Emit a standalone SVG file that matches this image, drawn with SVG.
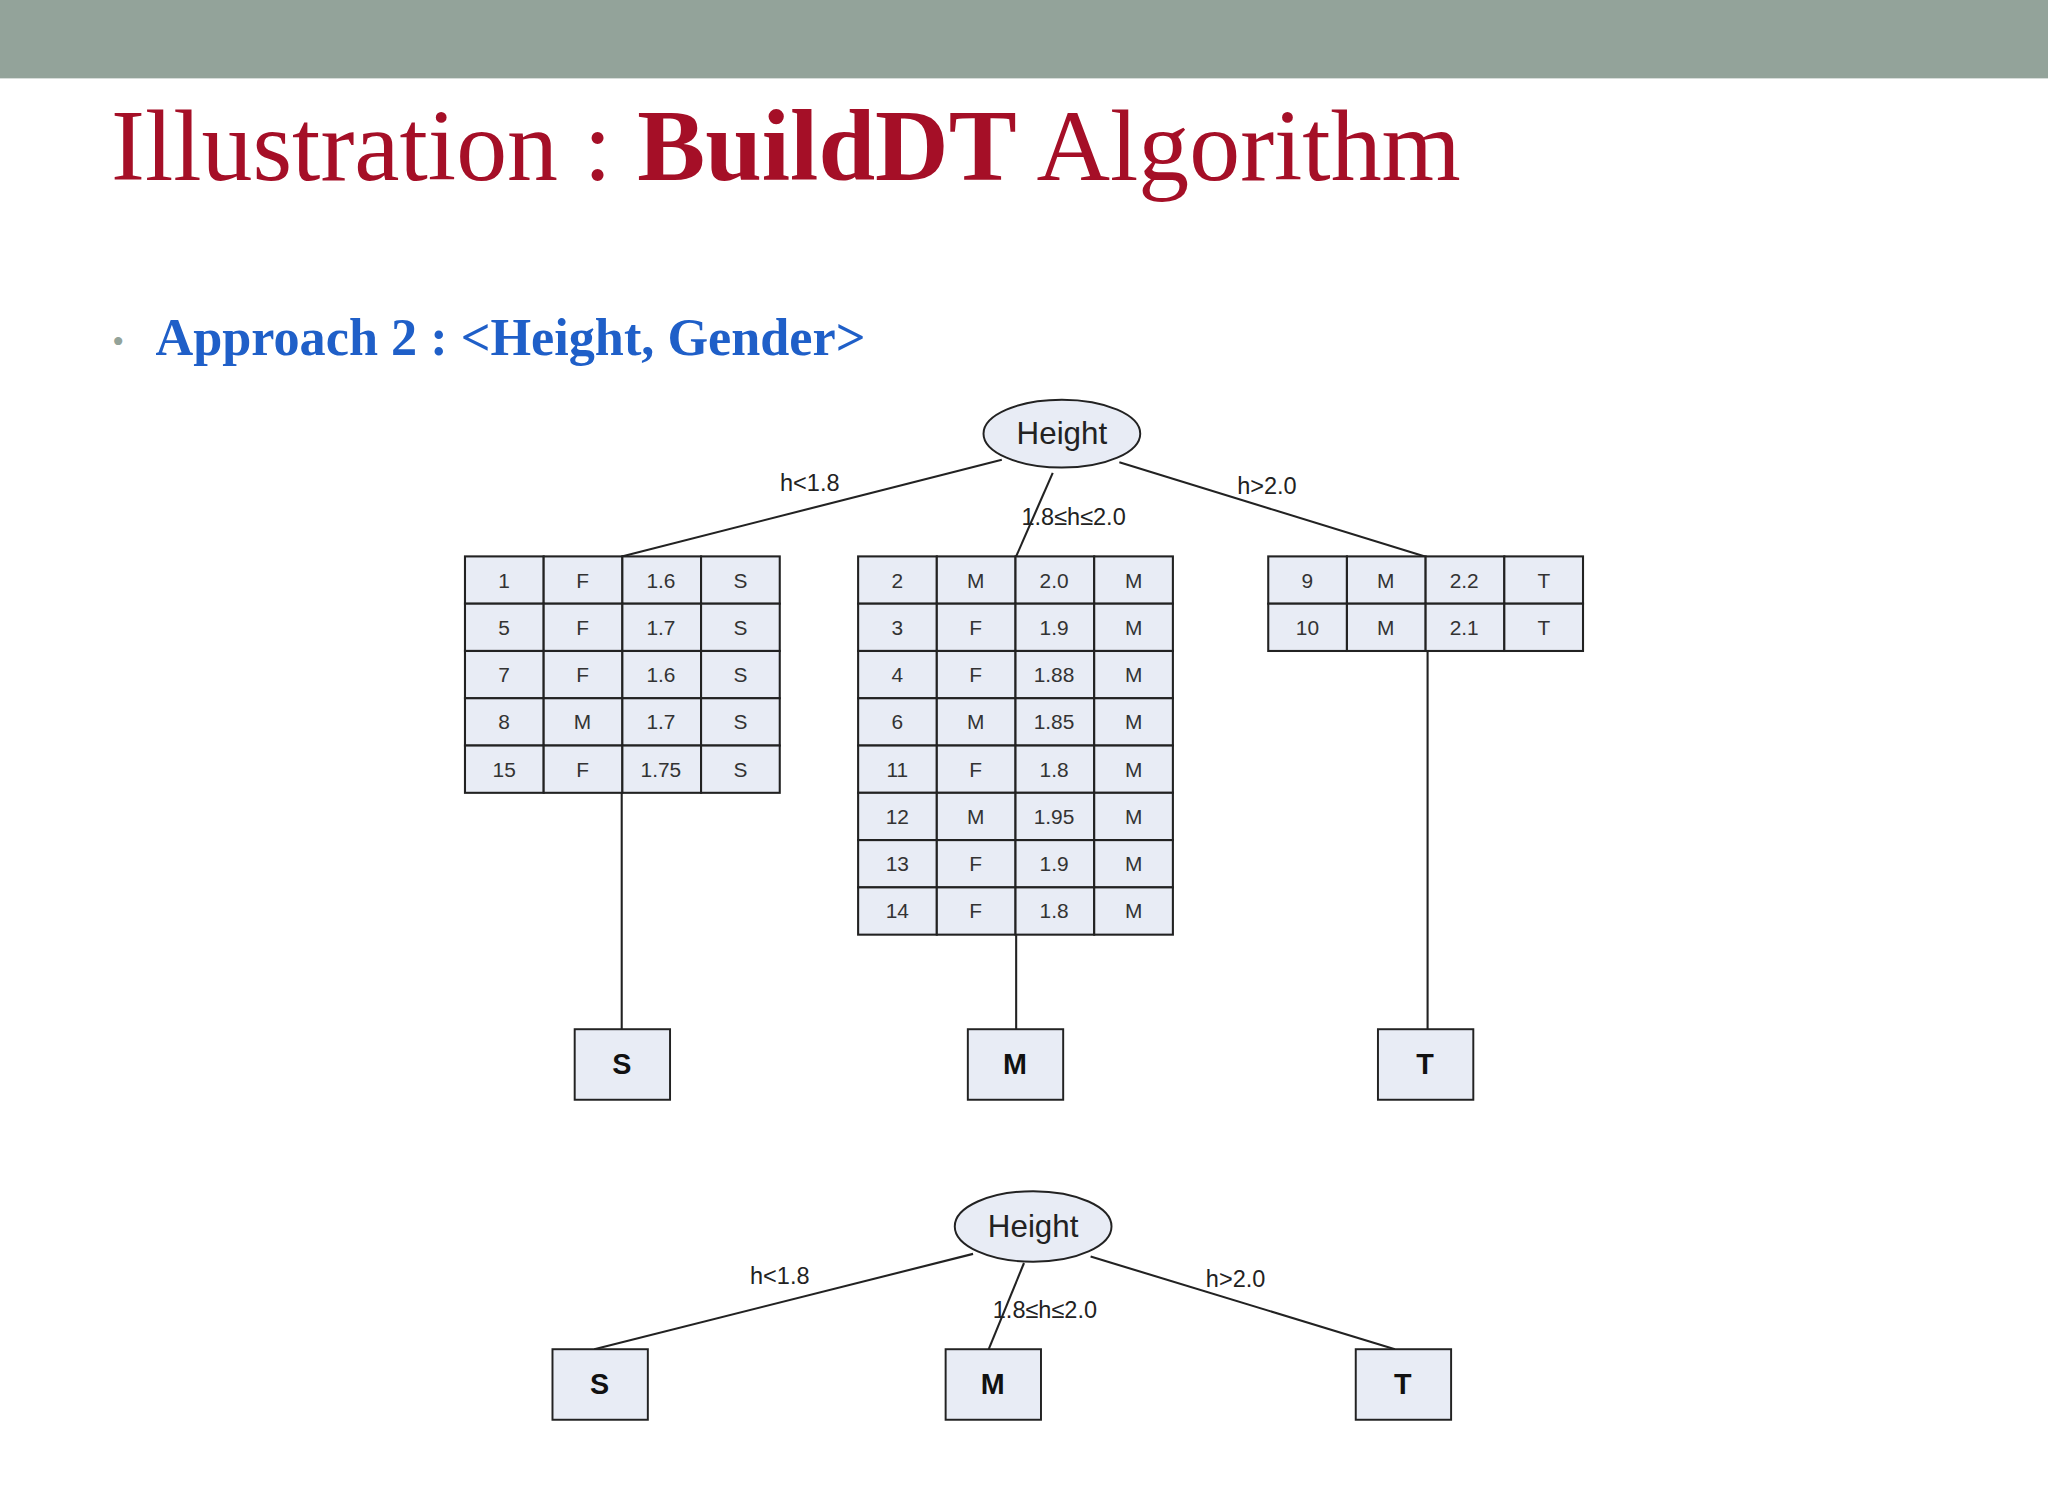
<svg xmlns="http://www.w3.org/2000/svg" width="2048" height="1500" viewBox="0 0 2048 1500">
<style>
.cell{fill:#e8ecf5;stroke:#222;stroke-width:1.6}
.ct{font-family:"Liberation Sans",Arial,sans-serif;font-size:16px;fill:#333;text-anchor:middle}
.lbl{font-family:"Liberation Sans",Arial,sans-serif;font-size:18px;fill:#222;text-anchor:middle}
.node{fill:#e8ecf5;stroke:#222;stroke-width:1.5}
.leaf{fill:#e8ecf5;stroke:#222;stroke-width:1.5}
.lt{font-family:"Liberation Sans",Arial,sans-serif;font-size:22px;font-weight:bold;fill:#111;text-anchor:middle}
.nt{font-family:"Liberation Sans",Arial,sans-serif;font-size:24px;fill:#222;text-anchor:middle}
.edge{stroke:#222;stroke-width:1.6;fill:none}
</style>
<rect width="2048" height="1500" fill="#fff"/>
<g transform="scale(1.30612)">
<rect x="0" y="0" width="1568" height="60" fill="#93a39a"/>
<text x="85" y="138" font-family="'Liberation Serif','Times New Roman',serif" font-size="78" fill="#a50f27">Illustration : <tspan font-weight="bold">BuildDT</tspan> Algorithm</text>
<text x="86" y="270" font-family="'Liberation Serif',serif" font-size="26" fill="#93a39a">•</text>
<text x="119" y="272" font-family="'Liberation Serif','Times New Roman',serif" font-size="40" font-weight="bold" fill="#1f5fc8">Approach 2 : &lt;Height, Gender&gt;</text>

<g id="connectors">
<line class="edge" x1="767" y1="352" x2="476" y2="426"/>
<line class="edge" x1="806" y1="362" x2="778" y2="426"/>
<line class="edge" x1="857" y1="354" x2="1091" y2="426"/>
<line class="edge" x1="476" y1="607" x2="476" y2="788"/>
<line class="edge" x1="778" y1="716" x2="778" y2="788"/>
<line class="edge" x1="1093" y1="498" x2="1093" y2="788"/>
<line class="edge" x1="745" y1="960" x2="455" y2="1033"/>
<line class="edge" x1="784" y1="967" x2="757" y2="1033"/>
<line class="edge" x1="835" y1="962" x2="1068" y2="1033"/>
<text class="lbl" x="620" y="376">h&lt;1.8</text>
<text class="lbl" x="822" y="402">1.8≤h≤2.0</text>
<text class="lbl" x="970" y="378">h&gt;2.0</text>
<text class="lbl" x="597" y="983">h&lt;1.8</text>
<text class="lbl" x="800" y="1009">1.8≤h≤2.0</text>
<text class="lbl" x="946" y="985">h&gt;2.0</text>
</g>

<g id="root1"><ellipse class="node" cx="813" cy="332" rx="60" ry="26"/><text class="nt" x="813" y="340">Height</text></g>
<g id="root2"><ellipse class="node" cx="791" cy="939" rx="60" ry="27"/><text class="nt" x="791" y="947">Height</text></g>

<g id="tableS">
<g class="cell">
<rect x="356" y="426" width="60.25" height="36.2"/><rect x="416.25" y="426" width="60.25" height="36.2"/><rect x="476.5" y="426" width="60.25" height="36.2"/><rect x="536.75" y="426" width="60.25" height="36.2"/>
<rect x="356" y="462.2" width="60.25" height="36.2"/><rect x="416.25" y="462.2" width="60.25" height="36.2"/><rect x="476.5" y="462.2" width="60.25" height="36.2"/><rect x="536.75" y="462.2" width="60.25" height="36.2"/>
<rect x="356" y="498.4" width="60.25" height="36.2"/><rect x="416.25" y="498.4" width="60.25" height="36.2"/><rect x="476.5" y="498.4" width="60.25" height="36.2"/><rect x="536.75" y="498.4" width="60.25" height="36.2"/>
<rect x="356" y="534.6" width="60.25" height="36.2"/><rect x="416.25" y="534.6" width="60.25" height="36.2"/><rect x="476.5" y="534.6" width="60.25" height="36.2"/><rect x="536.75" y="534.6" width="60.25" height="36.2"/>
<rect x="356" y="570.8" width="60.25" height="36.2"/><rect x="416.25" y="570.8" width="60.25" height="36.2"/><rect x="476.5" y="570.8" width="60.25" height="36.2"/><rect x="536.75" y="570.8" width="60.25" height="36.2"/>
</g>
<g class="ct">
<text x="386" y="450">1</text><text x="446" y="450">F</text><text x="506" y="450">1.6</text><text x="567" y="450">S</text>
<text x="386" y="486">5</text><text x="446" y="486">F</text><text x="506" y="486">1.7</text><text x="567" y="486">S</text>
<text x="386" y="522">7</text><text x="446" y="522">F</text><text x="506" y="522">1.6</text><text x="567" y="522">S</text>
<text x="386" y="558">8</text><text x="446" y="558">M</text><text x="506" y="558">1.7</text><text x="567" y="558">S</text>
<text x="386" y="595">15</text><text x="446" y="595">F</text><text x="506" y="595">1.75</text><text x="567" y="595">S</text>
</g>
</g>

<g id="tableM">
<g class="cell">
<rect x="657" y="426" width="60.25" height="36.2"/><rect x="717.25" y="426" width="60.25" height="36.2"/><rect x="777.5" y="426" width="60.25" height="36.2"/><rect x="837.75" y="426" width="60.25" height="36.2"/>
<rect x="657" y="462.2" width="60.25" height="36.2"/><rect x="717.25" y="462.2" width="60.25" height="36.2"/><rect x="777.5" y="462.2" width="60.25" height="36.2"/><rect x="837.75" y="462.2" width="60.25" height="36.2"/>
<rect x="657" y="498.4" width="60.25" height="36.2"/><rect x="717.25" y="498.4" width="60.25" height="36.2"/><rect x="777.5" y="498.4" width="60.25" height="36.2"/><rect x="837.75" y="498.4" width="60.25" height="36.2"/>
<rect x="657" y="534.6" width="60.25" height="36.2"/><rect x="717.25" y="534.6" width="60.25" height="36.2"/><rect x="777.5" y="534.6" width="60.25" height="36.2"/><rect x="837.75" y="534.6" width="60.25" height="36.2"/>
<rect x="657" y="570.8" width="60.25" height="36.2"/><rect x="717.25" y="570.8" width="60.25" height="36.2"/><rect x="777.5" y="570.8" width="60.25" height="36.2"/><rect x="837.75" y="570.8" width="60.25" height="36.2"/>
<rect x="657" y="607" width="60.25" height="36.2"/><rect x="717.25" y="607" width="60.25" height="36.2"/><rect x="777.5" y="607" width="60.25" height="36.2"/><rect x="837.75" y="607" width="60.25" height="36.2"/>
<rect x="657" y="643.2" width="60.25" height="36.2"/><rect x="717.25" y="643.2" width="60.25" height="36.2"/><rect x="777.5" y="643.2" width="60.25" height="36.2"/><rect x="837.75" y="643.2" width="60.25" height="36.2"/>
<rect x="657" y="679.4" width="60.25" height="36.2"/><rect x="717.25" y="679.4" width="60.25" height="36.2"/><rect x="777.5" y="679.4" width="60.25" height="36.2"/><rect x="837.75" y="679.4" width="60.25" height="36.2"/>
</g>
<g class="ct">
<text x="687" y="450">2</text><text x="747" y="450">M</text><text x="807" y="450">2.0</text><text x="868" y="450">M</text>
<text x="687" y="486">3</text><text x="747" y="486">F</text><text x="807" y="486">1.9</text><text x="868" y="486">M</text>
<text x="687" y="522">4</text><text x="747" y="522">F</text><text x="807" y="522">1.88</text><text x="868" y="522">M</text>
<text x="687" y="558">6</text><text x="747" y="558">M</text><text x="807" y="558">1.85</text><text x="868" y="558">M</text>
<text x="687" y="595">11</text><text x="747" y="595">F</text><text x="807" y="595">1.8</text><text x="868" y="595">M</text>
<text x="687" y="631">12</text><text x="747" y="631">M</text><text x="807" y="631">1.95</text><text x="868" y="631">M</text>
<text x="687" y="667">13</text><text x="747" y="667">F</text><text x="807" y="667">1.9</text><text x="868" y="667">M</text>
<text x="687" y="703">14</text><text x="747" y="703">F</text><text x="807" y="703">1.8</text><text x="868" y="703">M</text>
</g>
</g>

<g id="tableT">
<g class="cell">
<rect x="971" y="426" width="60.25" height="36.2"/><rect x="1031.25" y="426" width="60.25" height="36.2"/><rect x="1091.5" y="426" width="60.25" height="36.2"/><rect x="1151.75" y="426" width="60.25" height="36.2"/>
<rect x="971" y="462.2" width="60.25" height="36.2"/><rect x="1031.25" y="462.2" width="60.25" height="36.2"/><rect x="1091.5" y="462.2" width="60.25" height="36.2"/><rect x="1151.75" y="462.2" width="60.25" height="36.2"/>
</g>
<g class="ct">
<text x="1001" y="450">9</text><text x="1061" y="450">M</text><text x="1121" y="450">2.2</text><text x="1182" y="450">T</text>
<text x="1001" y="486">10</text><text x="1061" y="486">M</text><text x="1121" y="486">2.1</text><text x="1182" y="486">T</text>
</g>
</g>

<g id="leafS1"><rect class="leaf" x="440" y="788" width="73" height="54"/><text class="lt" x="476" y="822">S</text></g>
<g id="leafM1"><rect class="leaf" x="741" y="788" width="73" height="54"/><text class="lt" x="777" y="822">M</text></g>
<g id="leafT1"><rect class="leaf" x="1055" y="788" width="73" height="54"/><text class="lt" x="1091" y="822">T</text></g>
<g id="leafS2"><rect class="leaf" x="423" y="1033" width="73" height="54"/><text class="lt" x="459" y="1067">S</text></g>
<g id="leafM2"><rect class="leaf" x="724" y="1033" width="73" height="54"/><text class="lt" x="760" y="1067">M</text></g>
<g id="leafT2"><rect class="leaf" x="1038" y="1033" width="73" height="54"/><text class="lt" x="1074" y="1067">T</text></g>
</g>
</svg>
